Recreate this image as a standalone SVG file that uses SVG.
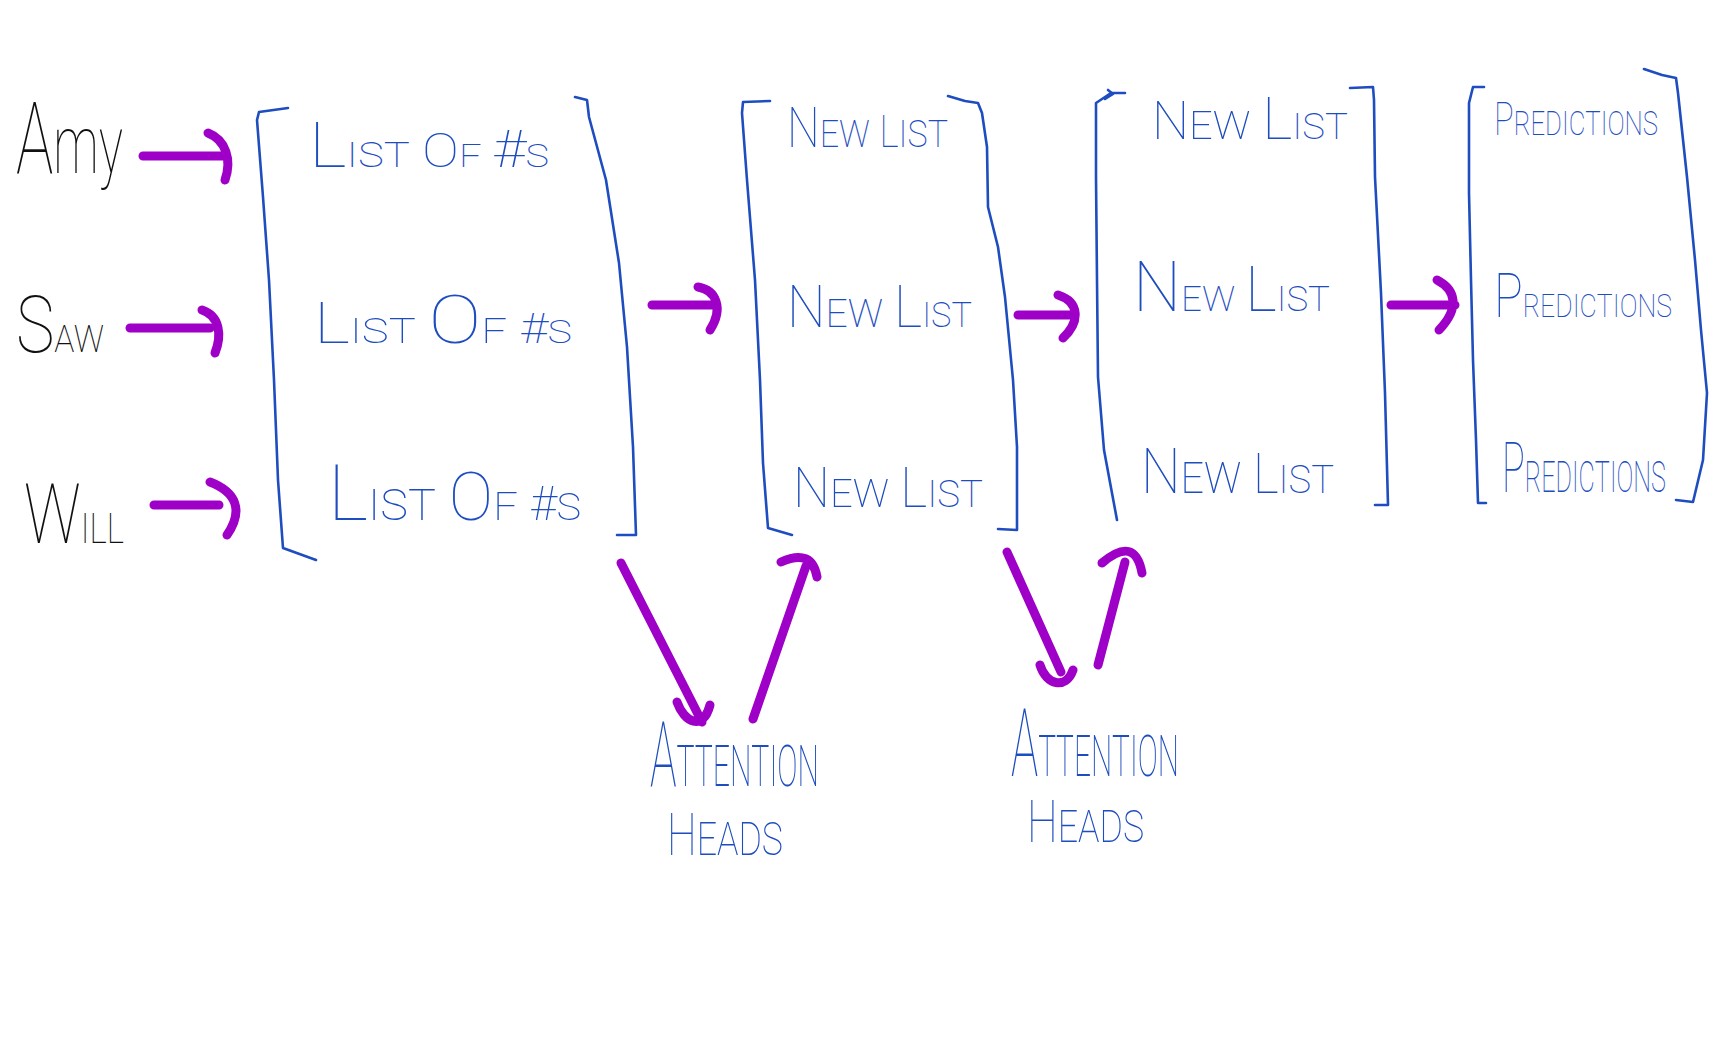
<svg xmlns="http://www.w3.org/2000/svg" width="1720" height="1045" viewBox="0 0 1720 1045">
<style>
.hand{font-family:Roboto,Lato,"Noto Sans","Liberation Sans",sans-serif;font-weight:100}
.blue{fill:#1E4DBF}
.ink{fill:#111111}
.sc{font-variant:small-caps}
.br{fill:none;stroke:#1E4DBF;stroke-width:2.6;stroke-linecap:round;stroke-linejoin:round}
.ar{fill:none;stroke:#9F00C8;stroke-width:9;stroke-linecap:round;stroke-linejoin:round}
</style>
<rect width="1720" height="1045" fill="#ffffff"/>
<g id="word-amy"><text class="hand ink" x="16" y="173" textLength="107" lengthAdjust="spacingAndGlyphs"><tspan font-size="101">A</tspan><tspan font-size="82">my</tspan></text></g>
<g id="word-saw"><text class="hand ink" x="16" y="352" textLength="88" lengthAdjust="spacingAndGlyphs"><tspan font-size="80">S</tspan><tspan class="sc" font-size="48">aw</tspan></text></g>
<g id="word-will"><text class="hand ink" x="24" y="543" textLength="100" lengthAdjust="spacingAndGlyphs"><tspan font-size="84">W</tspan><tspan class="sc" font-size="52">ill</tspan></text></g>

<g id="box-lists">
<path class="br" d="M288,108 L259,112 L257,120 L263,197 L269,280 L274,380 L278,480 L283,548 L316,560"/>
<path class="br" d="M575,97 L587,100 L589,117 L606,180 L619,263 L627,347 L633,447 L636,535 L617,535"/>
<text class="hand blue sc" x="309" y="167" textLength="240" lengthAdjust="spacingAndGlyphs"><tspan font-size="63">L</tspan><tspan font-size="44">ist </tspan><tspan font-size="48">O</tspan><tspan font-size="40">f </tspan><tspan font-size="52">#</tspan><tspan font-size="40">s</tspan></text>
<text class="hand blue sc" x="314" y="343" textLength="258" lengthAdjust="spacingAndGlyphs"><tspan font-size="58">L</tspan><tspan font-size="44">ist </tspan><tspan font-size="66">O</tspan><tspan font-size="44">f </tspan><tspan font-size="42">#</tspan><tspan font-size="40">s</tspan></text>
<text class="hand blue sc" x="328" y="520" textLength="253" lengthAdjust="spacingAndGlyphs"><tspan font-size="77">L</tspan><tspan font-size="54">ist </tspan><tspan font-size="66">O</tspan><tspan font-size="50">f </tspan><tspan font-size="48">#</tspan><tspan font-size="48">s</tspan></text>
</g>

<g id="box-new-1">
<path class="br" d="M770,101 L743,102 L742,113 L747,180 L755,280 L760,380 L763,463 L768,528 L792,535"/>
<path class="br" d="M948,96 L965,101 L978,103 L982,113 L987,147 L988,207 L998,247 L1005,297 L1013,380 L1017,447 L1017,530 L998,529"/>
<text class="hand blue sc" x="787" y="147" textLength="161" lengthAdjust="spacingAndGlyphs"><tspan font-size="56">N</tspan><tspan font-size="48">ew </tspan><tspan font-size="45">L</tspan><tspan font-size="48">ist</tspan></text>
<text class="hand blue sc" x="787" y="327" textLength="185" lengthAdjust="spacingAndGlyphs"><tspan font-size="60">N</tspan><tspan font-size="50">ew </tspan><tspan font-size="60">L</tspan><tspan font-size="44">ist</tspan></text>
<text class="hand blue sc" x="793" y="507" textLength="190" lengthAdjust="spacingAndGlyphs"><tspan font-size="56">N</tspan><tspan font-size="50">ew </tspan><tspan font-size="56">L</tspan><tspan font-size="48">ist</tspan></text>
</g>

<g id="box-new-2">
<path class="br" d="M1125,93 L1111,93 L1096,103 L1096,177 L1097,280 L1098,377 L1104,450 L1117,520"/>
<path class="br" d="M1105,99 L1113,94 L1108,90"/>
<path class="br" d="M1350,88 L1373,87 L1374,100 L1375,177 L1381,293 L1385,393 L1388,505 L1375,505"/>
<text class="hand blue sc" x="1152" y="139" textLength="196" lengthAdjust="spacingAndGlyphs"><tspan font-size="54">N</tspan><tspan font-size="50">ew </tspan><tspan font-size="60">L</tspan><tspan font-size="46">ist</tspan></text>
<text class="hand blue sc" x="1133" y="311" textLength="197" lengthAdjust="spacingAndGlyphs"><tspan font-size="70">N</tspan><tspan font-size="44">ew </tspan><tspan font-size="63">L</tspan><tspan font-size="44">ist</tspan></text>
<text class="hand blue sc" x="1141" y="493" textLength="193" lengthAdjust="spacingAndGlyphs"><tspan font-size="63">N</tspan><tspan font-size="54">ew </tspan><tspan font-size="56">L</tspan><tspan font-size="50">ist</tspan></text>
</g>

<g id="box-predictions">
<path class="br" d="M1484,87 L1473,87 L1469,103 L1469,193 L1471,280 L1473,360 L1476,440 L1478,503 L1486,503"/>
<path class="br" d="M1644,69 L1662,75 L1676,78 L1678,93 L1687,177 L1695,260 L1701,330 L1707,393 L1703,460 L1693,502 L1676,500"/>
<text class="hand blue sc" x="1494" y="135" textLength="164" lengthAdjust="spacingAndGlyphs"><tspan font-size="46">P</tspan><tspan font-size="42">redictions</tspan></text>
<text class="hand blue sc" x="1494" y="317" textLength="178" lengthAdjust="spacingAndGlyphs"><tspan font-size="62">P</tspan><tspan font-size="40">redictions</tspan></text>
<text class="hand blue sc" x="1502" y="492" textLength="164" lengthAdjust="spacingAndGlyphs"><tspan font-size="70">P</tspan><tspan font-size="54">redictions</tspan></text>
</g>

<g id="attention-1">
<text class="hand blue sc" x="650" y="786" textLength="169" lengthAdjust="spacingAndGlyphs"><tspan font-size="91">A</tspan><tspan font-size="72">ttention</tspan></text>
<text class="hand blue sc" x="667" y="855" textLength="116" lengthAdjust="spacingAndGlyphs"><tspan font-size="59">H</tspan><tspan font-size="58">eads</tspan></text>
</g>
<g id="attention-2">
<text class="hand blue sc" x="1011" y="776" textLength="168" lengthAdjust="spacingAndGlyphs"><tspan font-size="94">A</tspan><tspan font-size="72">ttention</tspan></text>
<text class="hand blue sc" x="1027" y="842" textLength="117" lengthAdjust="spacingAndGlyphs"><tspan font-size="59">H</tspan><tspan font-size="56">eads</tspan></text>
</g>

<g id="connectors">
<path class="ar" d="M143,156 L225,156 M208,133 C226,140 232,160 225,180"/>
<path class="ar" d="M130,328 L210,328 M202,310 C220,316 222,335 215,353"/>
<path class="ar" d="M154,505 L219,505 M210,482 C236,492 244,510 227,535"/>
<path class="ar" d="M652,305 L712,305 M698,287 C716,290 724,308 710,330"/>
<path class="ar" d="M1018,315 L1075,315 M1058,295 C1080,302 1080,322 1063,338"/>
<path class="ar" d="M1391,305 L1455,305 M1437,280 C1456,290 1460,308 1439,330"/>
<path class="ar" d="M621,563 L702,722 M677,702 C684,722 703,732 710,705"/>
<path class="ar" d="M753,719 L806,566 M781,562 Q812,548 817,577"/>
<path class="ar" d="M1007,552 L1061,672 M1040,665 C1046,685 1066,690 1073,670"/>
<path class="ar" d="M1098,665 L1125,562 M1102,563 Q1135,535 1142,573"/>
</g>
</svg>
